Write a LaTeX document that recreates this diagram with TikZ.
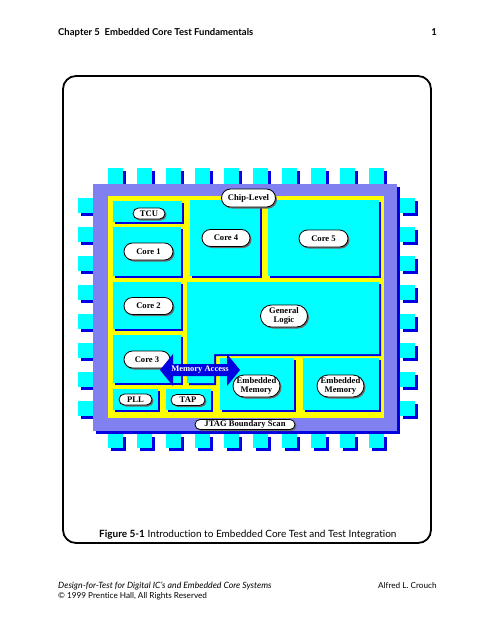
\documentclass[tikz,border=0pt]{standalone}
\usepackage{fontspec}
\setmainfont{Liberation Serif}
\newfontfamily\pagefont[Ligatures=NoCommon]{Lato}
\usetikzlibrary{shapes.misc,shadows}
\definecolor{padcyan}{RGB}{0,255,255}
\definecolor{chipblue}{RGB}{128,128,240}
\definecolor{deepblue}{RGB}{0,0,224}
\definecolor{coreyellow}{RGB}{255,255,0}
\definecolor{shadowgray}{RGB}{105,105,105}
\tikzset{
  pad/.style={fill=padcyan, drop shadow={shadow xshift=2.5pt, shadow yshift=-2.5pt, fill=deepblue, opacity=1}},
  chip/.style={fill=chipblue, drop shadow={shadow xshift=3pt, shadow yshift=-3pt, fill=deepblue, opacity=1}},
  block/.style={fill=padcyan, drop shadow={shadow xshift=2pt, shadow yshift=-2pt, fill=deepblue, opacity=1}},
  tag/.style={rounded rectangle, draw=black, line width=0.8pt, fill=white, inner sep=0pt, align=center,
    font=\fontsize{8.6}{8.4}\selectfont\bfseries,
    drop shadow={shadow xshift=1.5pt, shadow yshift=-1.5pt, fill=shadowgray, opacity=1}},
  pagetext/.style={anchor=base west, inner sep=0pt, font=\pagefont\fontsize{10}{11}\selectfont}
}
\begin{document}
\begin{tikzpicture}[x=1pt,y=-1pt]
    \useasboundingbox (0,0) rectangle (495,640);
    \fill[white] (0,0) rectangle (495,640);
    \node (head) [pagetext, font=\pagefont\bfseries\fontsize{9.5}{10}\selectfont] at (58,35.5) {Chapter 5\enspace Embedded Core Test Fundamentals};
    \node (pageno) [pagetext, anchor=base east, font=\pagefont\bfseries\fontsize{9.5}{10}\selectfont] at (437,35.5) {1};
    \draw[line width=1.8pt, rounded corners=13pt] (63,76) rectangle (431,543);
    \foreach \i in {0,...,9} {
        \fill[pad] (108+29*\i,168) rectangle +(15,16);
    }
    \foreach \i in {0,...,7} {
        \fill[pad] (78,198+29*\i) rectangle +(15,15);
    }
    \fill[chip] (93,184) rectangle (397,431);
    \foreach \i in {0,...,7} {
        \fill[pad] (400,198+29*\i) rectangle +(15,15);
    }
    \foreach \i in {0,...,9} {
        \fill[pad] (108+29*\i,434) rectangle +(15,14);
    }
    \fill[coreyellow] (108,196) rectangle (384,418);
    \fill[block] (113,201) rectangle (182,222);
    \fill[block] (113,227) rectangle (181,276);
    \fill[block] (190,200) rectangle (260,276);
    \fill[block] (268,200) rectangle (379,276);
    \fill[block] (113,282) rectangle (181,329);
    \fill[block] (113,335) rectangle (181,383);
    \fill[block] (187,282) -- (379,282) -- (379,354) -- (214,354) -- (214,383) -- (187,383) -- cycle;
    \fill[block] (220,358) rectangle (294,410);
    \fill[block] (303,358) rectangle (379,410);
    \fill[block] (113,389) rectangle (158,410);
    \fill[block] (166,389) rectangle (211,410);
    \node (chiplevel) [tag, minimum width=54pt, minimum height=18pt] at (248.5,198) {Chip-Level};
    \node (tcu) [tag, minimum width=32pt, minimum height=11pt] at (149,213.5) {TCU};
    \node (core1) [tag, minimum width=49pt, minimum height=17pt] at (148.5,251.5) {Core 1};
    \node (core4) [tag, minimum width=48pt, minimum height=17pt] at (226,238) {Core 4};
    \node (core5) [tag, minimum width=49pt, minimum height=17pt] at (323.5,238.5) {Core 5};
    \node (core2) [tag, minimum width=49pt, minimum height=17pt] at (148.5,306) {Core 2};
    \node (core3) [tag, minimum width=46pt, minimum height=17pt] at (147,359.5) {Core 3};
    \node (genlogic) [tag, minimum width=47pt, minimum height=22pt] at (284,316) {General\\Logic};
    \node (embmem1) [tag, minimum width=47pt, minimum height=22pt] at (256.5,386) {Embedded\\Memory};
    \node (embmem2) [tag, minimum width=47pt, minimum height=22pt] at (340.5,386) {Embedded\\Memory};
    \node (pll) [tag, minimum width=33pt, minimum height=11pt] at (135.5,399.5) {PLL};
    \node (tap) [tag, minimum width=34pt, minimum height=11pt] at (188,400) {TAP};
    \node (jtag) [tag, minimum width=100pt, minimum height=10pt] at (245,424.5) {JTAG Boundary Scan};
    \fill[deepblue] (160,370) -- (173,354) -- (173,364) -- (227,364) -- (227,354) -- (240,370)
        -- (227,386) -- (227,376) -- (173,376) -- (173,386) -- cycle;
    \node (memaccess) [text=white, inner sep=0pt, font=\fontsize{8.5}{9}\selectfont\bfseries] at (200,370) {Memory Access};
    \node (caption) [pagetext] at (99,537) {\textbf{Figure 5-1} Introduction to Embedded Core Test and Test Integration};
    \node (bookline) [pagetext, font=\pagefont\itshape\fontsize{8.7}{9}\selectfont] at (58,588) {Design-for-Test for Digital IC’s and Embedded Core Systems};
    \node (rights) [pagetext, font=\pagefont\fontsize{8.2}{9}\selectfont] at (58,598.5) {© 1999 Prentice Hall, All Rights Reserved};
    \node (author) [pagetext, font=\pagefont\fontsize{8.2}{9}\selectfont] at (378,588) {Alfred L. Crouch};
\end{tikzpicture}
\end{document}
